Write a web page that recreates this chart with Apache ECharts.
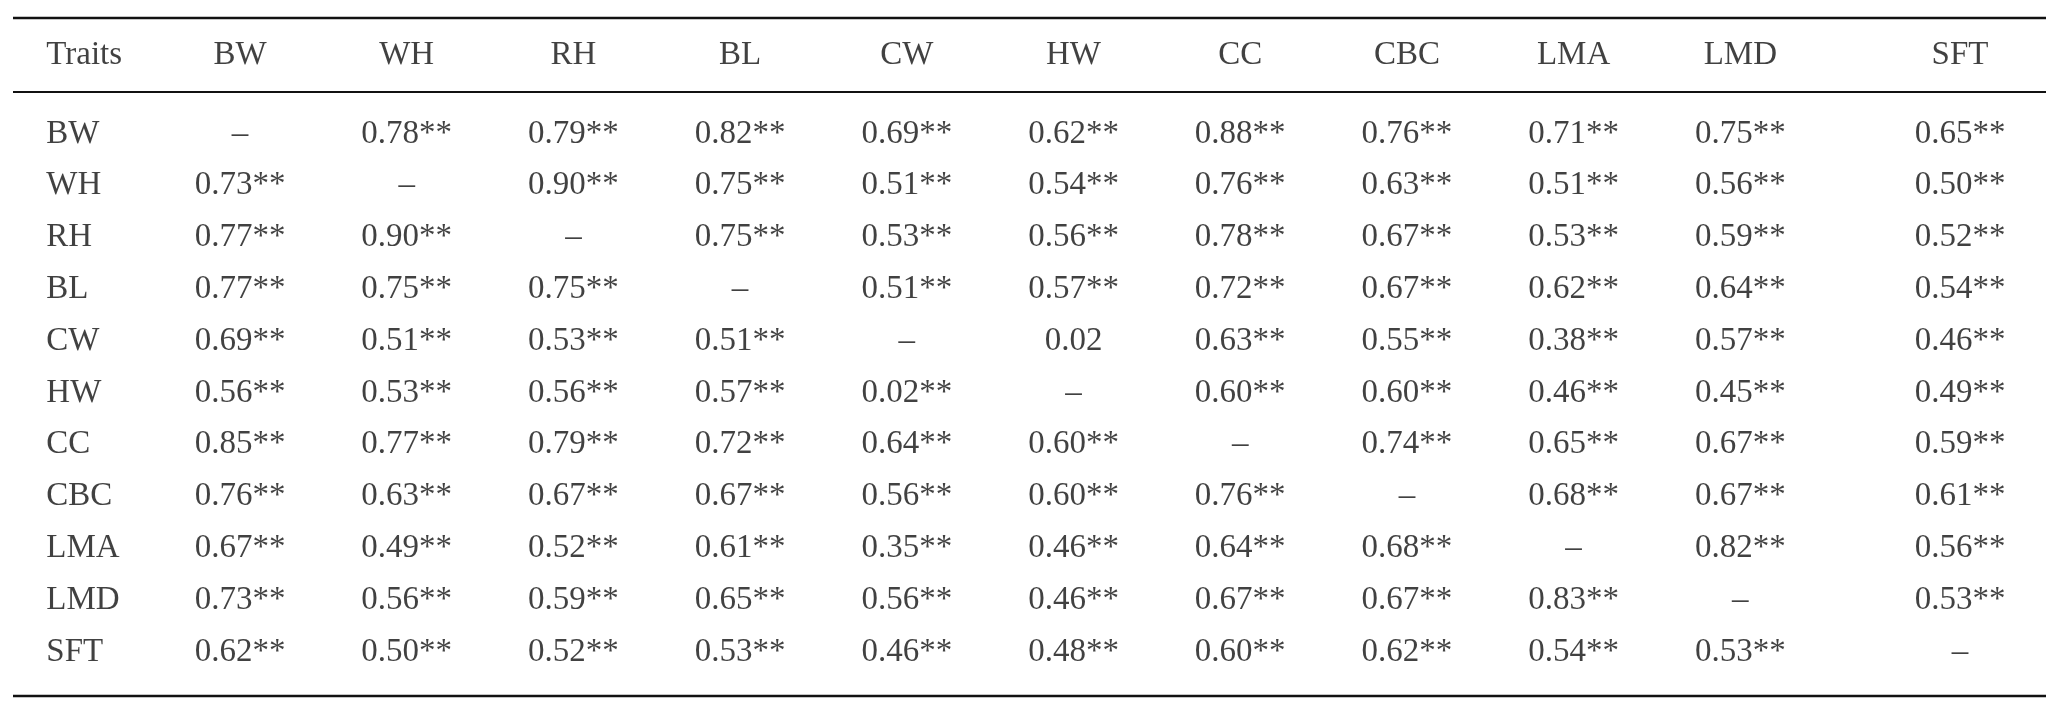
<!DOCTYPE html><html><head><meta charset="utf-8">
<script src="https://cdn.jsdelivr.net/npm/echarts@6/dist/echarts.min.js"></script>
<style>html,body{margin:0;background:#fff}#c{width:2067px;height:718px}</style></head><body><div id="c"></div>
<script>
const traits = ['BW','WH','RH','BL','CW','HW','CC','CBC','LMA','LMD','SFT'];
const header = ['Traits'].concat(traits);
const values = [
['–','0.78**','0.79**','0.82**','0.69**','0.62**','0.88**','0.76**','0.71**','0.75**','0.65**'],
['0.73**','–','0.90**','0.75**','0.51**','0.54**','0.76**','0.63**','0.51**','0.56**','0.50**'],
['0.77**','0.90**','–','0.75**','0.53**','0.56**','0.78**','0.67**','0.53**','0.59**','0.52**'],
['0.77**','0.75**','0.75**','–','0.51**','0.57**','0.72**','0.67**','0.62**','0.64**','0.54**'],
['0.69**','0.51**','0.53**','0.51**','–','0.02','0.63**','0.55**','0.38**','0.57**','0.46**'],
['0.56**','0.53**','0.56**','0.57**','0.02**','–','0.60**','0.60**','0.46**','0.45**','0.49**'],
['0.85**','0.77**','0.79**','0.72**','0.64**','0.60**','–','0.74**','0.65**','0.67**','0.59**'],
['0.76**','0.63**','0.67**','0.67**','0.56**','0.60**','0.76**','–','0.68**','0.67**','0.61**'],
['0.67**','0.49**','0.52**','0.61**','0.35**','0.46**','0.64**','0.68**','–','0.82**','0.56**'],
['0.73**','0.56**','0.59**','0.65**','0.56**','0.46**','0.67**','0.67**','0.83**','–','0.53**'],
['0.62**','0.50**','0.52**','0.53**','0.46**','0.48**','0.60**','0.62**','0.54**','0.53**','–']
];
const rowKeys = ['H'].concat(traits);
const font = {fontFamily:'Liberation Serif',fontSize:33,color:'#111'};
function lab(ci, ri){
  const l = Object.assign({show:true,position:'inside',formatter:p=>p.data.value[2]}, font);
  let dx = 0, dy = 0;
  if (ci===0){ l.align='left'; dx = 46-73; }
  if (ci===11) dx = 53;
  if (ri===0) dy = -27;
  l.offset=[dx,dy];
  return l;
}
const data = [];
for (let r=0;r<rowKeys.length;r++){
  for (let c=0;c<header.length;c++){
    let t = r===0 ? header[c] : (c===0 ? traits[r-1] : values[r-1][c-1]);
    data.push({value:[header[c], rowKeys[r], t], label: lab(c,r)});
  }
}
const chart = echarts.init(document.getElementById('c'));
chart.setOption({
  animation:false,
  grid:{left:73.3,right:2067-1907,top:134-51.8,bottom:718-652},
  xAxis:{type:'category',data:header,boundaryGap:false,show:false},
  yAxis:{type:'category',data:rowKeys,boundaryGap:false,inverse:true,show:false},
  series:[{type:'scatter',symbolSize:2,itemStyle:{color:'rgba(0,0,0,0)'},data:data}],
  graphic:[
    {type:'line',shape:{x1:13,y1:18,x2:2046,y2:18},style:{stroke:'#111',lineWidth:2.5}},
    {type:'line',shape:{x1:13,y1:92,x2:2046,y2:92},style:{stroke:'#111',lineWidth:2}},
    {type:'line',shape:{x1:13,y1:696,x2:2046,y2:696},style:{stroke:'#111',lineWidth:2.5}}
  ]
});
</script></body></html>
